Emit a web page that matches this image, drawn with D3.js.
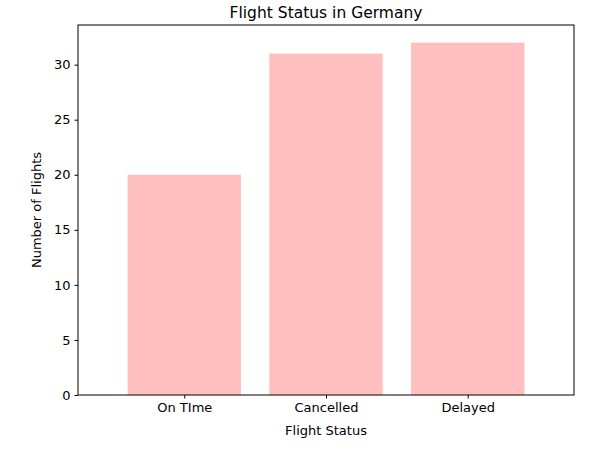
<!DOCTYPE html>
<html><head><meta charset="utf-8">
<script src="https://cdn.jsdelivr.net/npm/d3@7"></script>
<style>body{margin:0;background:#fff}text{font-family:"DejaVu Sans",sans-serif}</style>
</head><body><svg id="chart" width="603" height="451"></svg>
<script>
const categories = ["On TIme", "Cancelled", "Delayed"];
const flights = [20, 31, 32];
const yTicks = [0, 5, 10, 15, 20, 25, 30];

const plotLeft = 78, plotRight = 574, plotTop = 25, plotBottom = 395;
const svg = d3.select("#chart");

const x = d3.scaleLinear().domain([-0.75, 2.75]).range([plotLeft, plotRight]);
const y = d3.scaleLinear().domain([0, 33.6]).range([plotBottom, plotTop]);

// bars
svg.selectAll(".bar")
  .data(flights)
  .enter()
  .append("rect")
    .attr("x", (d, i) => x(i - 0.4))
    .attr("y", d => y(d))
    .attr("width", x(0.8) - x(0))
    .attr("height", d => plotBottom - y(d))
    .style("fill", "#ffbfbf");

// axes
const yAxis = d3.axisLeft(y).tickValues(yTicks).tickSize(3.5).tickPadding(4);
svg.append("g").attr("transform", `translate(${plotLeft},0)`).call(yAxis)
  .call(g => g.select(".domain").remove())
  .selectAll("text").style("font-size", "13px").attr("fill", "#000");
const xAxis = d3.axisBottom(x).tickValues([0, 1, 2]).tickFormat(i => categories[i]).tickSize(3.5).tickPadding(4);
svg.append("g").attr("transform", `translate(0,${plotBottom})`).call(xAxis)
  .call(g => g.select(".domain").remove())
  .selectAll("text").style("font-size", "13px").attr("fill", "#000");

svg.append("rect")
  .attr("x", plotLeft).attr("y", plotTop)
  .attr("width", plotRight - plotLeft).attr("height", plotBottom - plotTop)
  .style("fill", "none").style("stroke", "#000").style("stroke-width", "1px");

// labels
svg.append("text").attr("x", (plotLeft + plotRight) / 2).attr("y", 18)
  .attr("text-anchor", "middle").style("font-size", "15.5px").text("Flight Status in Germany");
svg.append("text").attr("x", (plotLeft + plotRight) / 2).attr("y", 435)
  .attr("text-anchor", "middle").style("font-size", "13px").text("Flight Status");
svg.append("text").attr("transform", `translate(41,${(plotTop + plotBottom) / 2}) rotate(-90)`)
  .attr("text-anchor", "middle").style("font-size", "13px").text("Number of Flights");
</script></body></html>
